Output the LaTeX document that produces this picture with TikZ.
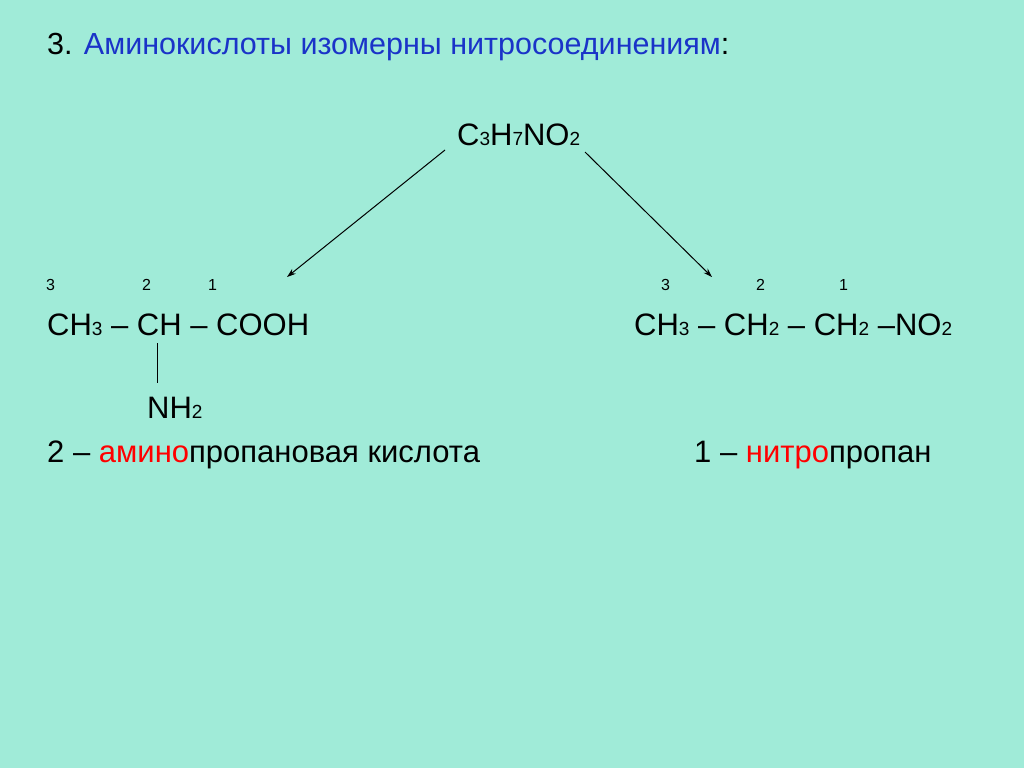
\documentclass[tikz,border=0pt]{standalone}
\usepackage{fontspec}
\usetikzlibrary{arrows.meta}
\setmainfont{Liberation Sans}
\definecolor{bg}{HTML}{A0EBD8}
\definecolor{tblue}{HTML}{1A33C8}
\definecolor{tred}{HTML}{FF0000}
\newcommand{\sbs}[1]{{\fontsize{19}{19}\selectfont #1}}
\begin{document}
\begin{tikzpicture}[x=1pt,y=-1pt,
  txt/.style={anchor=base west,inner sep=0pt,font=\fontsize{31}{34}\selectfont},
  num/.style={anchor=base west,inner sep=0pt,font=\fontsize{16}{18}\selectfont},
  arr/.style={-{Stealth[length=9pt,width=6pt]},line width=1pt}]
\fill[bg] (0,0) rectangle (1024,768);
\useasboundingbox (0,0) rectangle (1024,768);
\node[txt,font=\fontsize{30.5}{34}\selectfont] (title) at (47,55) {3. \textcolor{tblue}{Аминокислоты изомерны нитросоединениям}:};
\node[txt] (f) at (457,145) {C\sbs{3}H\sbs{7}NO\sbs{2}};
\coordinate (la) at (445,150); \coordinate (lb) at (287,277);
\coordinate (ra) at (585,152); \coordinate (rb) at (712,277);
\draw[arr] (la) -- (lb);
\draw[arr] (ra) -- (rb);
\node[num] (n3) at (46,290) {3};
\node[num] (n2) at (142,290) {2};
\node[num] (n1) at (208,290) {1};
\node[num] (m3) at (661,290) {3};
\node[num] (m2) at (756,290) {2};
\node[num] (m1) at (839,290) {1};
\node[txt] (ala) at (47,335) {CH\sbs{3} – CH – COOH};
\node[txt] (np) at (634,335) {CH\sbs{3} – CH\sbs{2} – CH\sbs{2} –NO\sbs{2}};
\coordinate (va) at (157,343); \coordinate (vb) at (157,383);
\draw[line width=0.8pt] (va) -- (vb);
\node[txt] (nh) at (147,418) {NH\sbs{2}};
\node[txt] (name1) at (47,462) {2 – \textcolor{tred}{амино}пропановая кислота};
\node[txt] (name2) at (694,462) {1 – \textcolor{tred}{нитро}пропан};
\end{tikzpicture}
\end{document}
